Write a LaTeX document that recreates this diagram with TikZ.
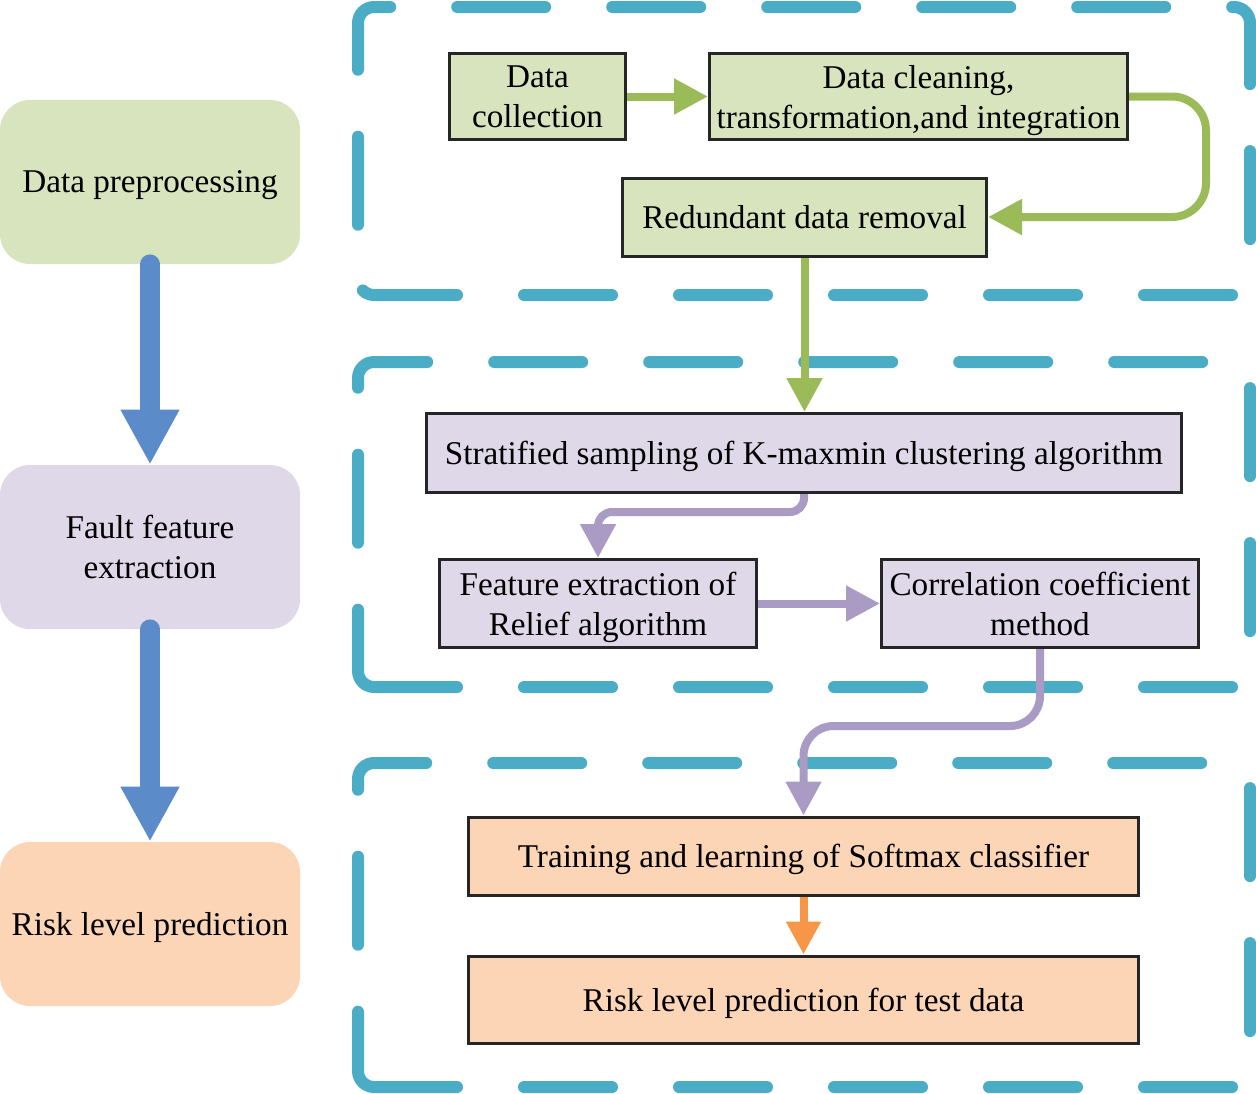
\documentclass[tikz,border=0pt]{standalone}
\usepackage{fontspec}
\setmainfont{Liberation Serif}
\usetikzlibrary{arrows.meta}

\definecolor{prepfill}{HTML}{D7E4BD}
\definecolor{featfill}{HTML}{DFD8E8}
\definecolor{riskfill}{HTML}{FBD5B5}
\definecolor{preparrow}{HTML}{9BBB59}
\definecolor{featarrow}{HTML}{A99BC4}
\definecolor{riskarrow}{HTML}{F79646}
\definecolor{stagearrow}{HTML}{5B8BC9}
\definecolor{framecol}{HTML}{4BACC6}

\tikzset{
    stage/.style={rounded corners=15pt, minimum width=150pt, minimum height=82pt, align=center, inner sep=0pt, text depth=0pt},
    procbox/.style={draw=black!85, line width=1.5pt, align=center, inner sep=0pt, text depth=0pt},
    frame/.style={draw=framecol, line width=6pt, line cap=round, rounded corners=8pt, dash pattern=on 44pt off 33.5pt, dash phase=2.5pt},
    flow/.style={line width=4pt, rounded corners=7pt, -{Triangle[length=17pt,width=17pt]}},
    bigflow/.style={draw=stagearrow, line width=10pt, line cap=round, -{Triangle[length=27.5pt,width=27.5pt]}}
}

\begin{document}
\begin{tikzpicture}[x=0.5pt, y=-0.5pt, font=\fontsize{16.6pt}{20pt}\selectfont]
    \useasboundingbox (0,0) rectangle (1256,1093);

    \draw[frame] (358,295) -- (1250,295) -- (1250,7) -- (358,7) -- cycle;
    \draw[frame] (358,687) -- (1250,687) -- (1250,362) -- (358,362) -- cycle;
    \draw[frame] (358,1087) -- (1250,1087) -- (1250,763) -- (358,763) -- cycle;

    \node[stage, fill=prepfill] (prep) at (150,182) {Data preprocessing};
    \node[stage, fill=featfill] (feat) at (150,547) {Fault feature\\extraction};
    \node[stage, fill=riskfill] (risk) at (150,924) {Risk level prediction};
    \draw[bigflow] (prep.south) -- (feat.north);
    \draw[bigflow] (feat.south) -- (risk.north);

    \node[procbox, fill=prepfill, minimum width=88pt, minimum height=43pt] (collect) at (537.5,96.5) {Data\\collection};
    \node[procbox, fill=prepfill, minimum width=209pt, minimum height=43pt] (clean) at (918.5,96.5) {Data cleaning,\\transformation,and integration};
    \node[procbox, fill=prepfill, minimum width=182pt, minimum height=39pt] (redund) at (804.5,217) {Redundant data removal};

    \node[procbox, fill=featfill, minimum width=377.5pt, minimum height=39.5pt] (strat) at (804,453) {Stratified sampling of K-maxmin clustering algorithm};
    \node[procbox, fill=featfill, minimum width=158.5pt, minimum height=44pt] (relief) at (598,603.5) {Feature extraction of\\Relief algorithm};
    \node[procbox, fill=featfill, minimum width=158.5pt, minimum height=44pt] (corr) at (1040,603.5) {Correlation coefficient\\method};

    \node[procbox, fill=riskfill, minimum width=335pt, minimum height=39pt] (train) at (803.5,856) {Training and learning of Softmax classifier};
    \node[procbox, fill=riskfill, minimum width=335pt, minimum height=43.5pt] (predict) at (803.5,999.5) {Risk level prediction for test data};

    \draw[flow, draw=preparrow] (collect) -- (clean);
    \draw[flow, draw=preparrow, rounded corners=17pt] (clean.east) -- ++(77,0) |- (redund.east);
    \draw[flow, draw=preparrow] (redund.south) -- (redund.south |- strat.north);
    \draw[flow, draw=featarrow] (strat.south) -- ++(0,18) -| (relief.north);
    \draw[flow, draw=featarrow] (relief) -- (corr);
    \draw[flow, draw=featarrow, rounded corners=15pt] (corr.south) -- ++(0,77) -| (train.north);
    \draw[flow, draw=riskarrow, -{Triangle[length=16.5pt,width=16.5pt]}] (train) -- (predict);
\end{tikzpicture}
\end{document}
